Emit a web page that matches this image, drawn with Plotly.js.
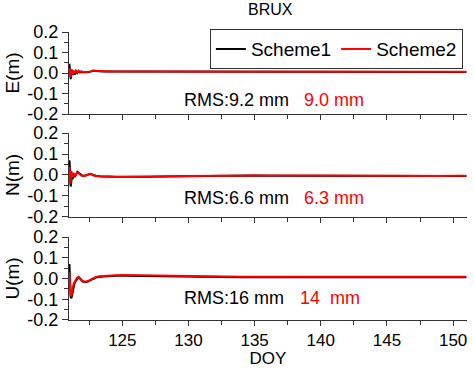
<!DOCTYPE html>
<html>
<head>
<meta charset="utf-8">
<script src="https://cdn.plot.ly/plotly-3.0.1.min.js"></script>
<style>
  html, body { margin: 0; padding: 0; background: #fff; }
  #chart { width: 474px; height: 368px; }
</style>
</head>
<body>
<div id="chart"></div>
<script>
// ---- data ----
const day = [121.0,121.03,121.06,121.1,121.15,121.2,121.25,121.3,121.4,121.5,121.6,121.7,121.8,121.9,122.0,122.2,122.4,122.6,122.8,123.0,123.3,123.6,124.0,124.5,
  125,126,127,128,129,130,131,132,133,134,135,136,137,138,139,140,141,142,143,144,145,146,147,148,149,150,151];

const E_scheme1 = [0.045,0.02,-0.025,-0.03,0.0,0.015,-0.01,0.005,-0.008,0.008,0.0,0.01,0.003,0.006,0.004,0.003,0.004,0.007,0.011,0.010,0.008,0.007,0.007,0.007,
  0.007,0.006,0.007,0.006,0.005,0.006,0.006,0.005,0.006,0.006,0.005,0.005,0.006,0.005,0.005,0.006,0.005,0.005,0.005,0.006,0.005,0.005,0.005,0.006,0.005,0.005,0.005];
const E_scheme2 = [0.02,0.025,-0.015,-0.02,0.018,0.01,-0.008,0.012,0.0,0.012,0.004,0.01,0.005,0.008,0.006,0.004,0.005,0.008,0.012,0.011,0.009,0.008,0.008,0.008,
  0.008,0.007,0.008,0.007,0.007,0.007,0.007,0.006,0.007,0.007,0.006,0.006,0.007,0.006,0.006,0.007,0.006,0.006,0.006,0.007,0.006,0.006,0.006,0.007,0.006,0.006,0.006];

const N_scheme1 = [0.07,0.05,-0.02,-0.055,-0.03,0.01,-0.02,0.005,-0.01,0.0,0.015,0.01,0.005,-0.002,-0.004,-0.003,0.003,0.006,0.0,-0.004,-0.006,-0.007,-0.008,-0.008,
  -0.008,-0.009,-0.008,-0.007,-0.006,-0.005,-0.004,-0.003,-0.002,-0.003,-0.003,-0.004,-0.004,-0.004,-0.003,-0.004,-0.004,-0.005,-0.004,-0.004,-0.005,-0.005,-0.004,-0.005,-0.005,-0.005,-0.005];
const N_scheme2 = [0.04,0.0,-0.04,-0.03,0.02,-0.01,-0.005,0.01,-0.005,0.005,0.012,0.008,0.002,-0.003,-0.005,-0.004,0.002,0.005,-0.001,-0.005,-0.007,-0.008,-0.009,-0.009,
  -0.009,-0.009,-0.008,-0.007,-0.006,-0.005,-0.004,-0.003,-0.002,-0.003,-0.003,-0.003,-0.004,-0.004,-0.003,-0.003,-0.004,-0.004,-0.004,-0.004,-0.004,-0.005,-0.004,-0.004,-0.005,-0.004,-0.004];

const U_scheme1 = [0.07,0.03,-0.06,-0.09,-0.095,-0.08,-0.06,-0.04,-0.02,-0.01,0.0,0.005,0.0,-0.01,-0.015,-0.018,-0.015,-0.008,0.0,0.005,0.008,0.01,0.012,0.013,
  0.014,0.013,0.011,0.009,0.008,0.007,0.007,0.006,0.007,0.006,0.006,0.006,0.005,0.006,0.006,0.005,0.006,0.006,0.005,0.006,0.006,0.006,0.005,0.006,0.006,0.006,0.006];
const U_scheme2 = [0.03,0.0,-0.07,-0.085,-0.08,-0.06,-0.045,-0.03,-0.015,-0.005,0.005,0.008,0.002,-0.008,-0.012,-0.015,-0.012,-0.005,0.003,0.008,0.011,0.013,0.015,0.016,
  0.017,0.016,0.014,0.012,0.010,0.009,0.009,0.008,0.008,0.008,0.008,0.008,0.007,0.008,0.008,0.007,0.008,0.008,0.007,0.008,0.008,0.008,0.007,0.008,0.008,0.008,0.008];

const seriesNames = ['Scheme1', 'Scheme2'];
const panelLabels = ['E(m)', 'N(m)', 'U(m)'];
const rmsScheme1 = ['RMS:9.2 mm', 'RMS:6.6 mm', 'RMS:16 mm'];
const rmsScheme2 = ['9.0 mm', '6.3 mm', '14  mm'];
const yTickVals = [-0.2, -0.1, 0.0, 0.1, 0.2];
const yTickText = ['-0.2', '-0.1', '0.0', '0.1', '0.2'];
const yMinorVals = [-0.15, -0.05, 0.05, 0.15];
const xTickVals = [125, 130, 135, 140, 145, 150];
const xMinorVals = [122.5, 127.5, 132.5, 137.5, 142.5, 147.5];

// ---- styling ----
const FONT = 'Liberation Sans, Arial, sans-serif';
const colors = ['#000000', '#ff0000'];
const panels = [[E_scheme1, E_scheme2], [N_scheme1, N_scheme2], [U_scheme1, U_scheme2]];
const axSuffix = ['', '2', '3'];

const traces = [];
panels.forEach((pair, p) => {
  pair.forEach((vals, s) => {
    traces.push({
      x: day, y: vals, type: 'scatter', mode: 'lines',
      name: seriesNames[s],
      line: { color: colors[s], width: 2 },
      xaxis: 'x' + axSuffix[p], yaxis: 'y' + axSuffix[p],
      showlegend: p === 0
    });
  });
});

const domains = [[0.715, 1.0], [0.358, 0.649], [0.0, 0.288]];
const layout = {
  width: 474, height: 368,
  margin: { l: 69, r: 7, t: 32, b: 48 },
  paper_bgcolor: '#fff', plot_bgcolor: '#fff',
  font: { family: FONT, color: '#000', size: 18 },
  title: { text: 'BRUX', font: { family: FONT, size: 16, color: '#000' }, x: 0.57, xanchor: 'center', y: 0.975, yanchor: 'middle' },
  showlegend: true,
  legend: {
    orientation: 'h', x: 0.354, xanchor: 'left', y: 1.01, yanchor: 'top',
    bgcolor: '#fff', bordercolor: '#333', borderwidth: 1,
    font: { family: FONT, size: 19, color: '#000' },
    itemwidth: 30
  },
  annotations: []
};

const rmsY = [-0.13, -0.112, -0.095];
const rms2X = [138.55, 138.55, 138.27];
for (let p = 0; p < 3; p++) {
  const xa = 'xaxis' + axSuffix[p], ya = 'yaxis' + axSuffix[p];
  layout[xa] = {
    domain: [0, 1], anchor: 'y' + axSuffix[p],
    range: [120.97, 151.05],
    showline: true, linecolor: '#333', linewidth: 1,
    showgrid: false, zeroline: false,
    ticks: 'outside', ticklen: 5, tickwidth: 1, tickcolor: '#333',
    tickmode: 'array', tickvals: xTickVals,
    showticklabels: p === 2,
    tickfont: { family: FONT, size: 17, color: '#000' },
    minor: { tickmode: 'array', tickvals: xMinorVals, ticks: 'outside', ticklen: 4, tickcolor: '#333', showgrid: false }
  };
  if (p < 2) layout[xa].matches = 'x3';
  if (p === 2) layout[xa].title = { text: 'DOY', font: { family: FONT, size: 17, color: '#000' }, standoff: 2 };
  layout[ya] = {
    domain: domains[p], anchor: 'x' + axSuffix[p],
    range: [-0.2, 0.2],
    showline: true, linecolor: '#333', linewidth: 1,
    showgrid: false, zeroline: false,
    ticks: 'outside', ticklen: 6, tickwidth: 1, tickcolor: '#333',
    tickmode: 'array', tickvals: yTickVals, ticktext: yTickText,
    tickfont: { family: FONT, size: 18, color: '#000' },
    minor: { tickmode: 'array', tickvals: yMinorVals, ticks: 'outside', ticklen: 4, tickcolor: '#333', showgrid: false },
    title: { text: panelLabels[p], font: { family: FONT, size: 19, color: '#000' }, standoff: 2 }
  };
  layout.annotations.push({
    xref: 'x' + axSuffix[p], yref: 'y' + axSuffix[p], x: 129.5, y: rmsY[p],
    xanchor: 'left', yanchor: 'middle', showarrow: false,
    text: rmsScheme1[p], font: { family: FONT, size: 18, color: '#000' }
  });
  layout.annotations.push({
    xref: 'x' + axSuffix[p], yref: 'y' + axSuffix[p], x: rms2X[p], y: rmsY[p],
    xanchor: 'left', yanchor: 'middle', showarrow: false,
    text: rmsScheme2[p], font: { family: FONT, size: 18, color: '#ff0000' }
  });
}

Plotly.newPlot('chart', traces, layout, { displayModeBar: false, staticPlot: true });
</script>
</body>
</html>
